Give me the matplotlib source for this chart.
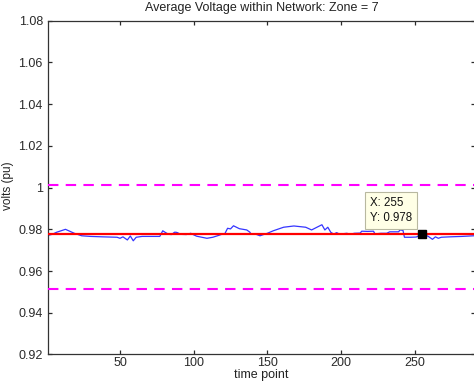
import matplotlib
matplotlib.use("Agg")
import matplotlib.pyplot as plt

plt.rcParams['font.family'] = ['Liberation Sans', 'DejaVu Sans']

# ---- data ----
time_points = [1, 4, 7, 13, 19, 24, 30, 38, 48, 50, 52, 55, 57, 59, 61, 65, 71, 77,
               79, 81, 83, 85, 87, 88, 89, 91, 95, 98, 99, 102, 109, 113, 117, 119,
               121, 123, 125, 127, 131, 136, 138, 139, 142, 145, 147, 150, 154, 161,
               168, 176, 180, 187, 189, 191, 193, 195, 197, 199, 204, 206, 209, 213,
               214, 218, 222, 223, 227, 231, 233, 239, 240, 242, 243, 247, 251, 255,
               259, 262, 264, 266, 268, 274, 282, 290]
avg_voltage = [0.9771, 0.9776, 0.9786, 0.9800, 0.9781, 0.9769, 0.9766, 0.9764, 0.9762,
               0.9757, 0.9764, 0.9749, 0.9768, 0.9745, 0.9762, 0.9766, 0.9766, 0.9766,
               0.9793, 0.9784, 0.9776, 0.9775, 0.9786, 0.9786, 0.9784, 0.9776, 0.9775,
               0.9781, 0.9777, 0.9767, 0.9757, 0.9762, 0.9771, 0.9776, 0.9777, 0.9805,
               0.9802, 0.9817, 0.9803, 0.9797, 0.9787, 0.9777, 0.9777, 0.9769, 0.9774,
               0.9781, 0.9793, 0.9810, 0.9816, 0.9810, 0.9797, 0.9822, 0.9797, 0.9810,
               0.9786, 0.9777, 0.9784, 0.9777, 0.9781, 0.9776, 0.9781, 0.9782, 0.9791,
               0.9790, 0.9791, 0.9778, 0.9781, 0.9781, 0.9788, 0.9788, 0.9797, 0.9795,
               0.9762, 0.9762, 0.9763, 0.9776, 0.9767, 0.9752, 0.9764, 0.9757, 0.9762,
               0.9764, 0.9766, 0.9769]
mean_level = 0.9776
upper_limit = 1.0012
lower_limit = 0.9515
tip_x = 255
tip_y = 0.9776

x_limits = [1, 291]
y_limits = [0.92, 1.08]
x_ticks = [50, 100, 150, 200, 250]
y_ticks = [0.92, 0.94, 0.96, 0.98, 1.00, 1.02, 1.04, 1.06, 1.08]
y_tick_labels = ['0.92', '0.94', '0.96', '0.98', '1', '1.02', '1.04', '1.06', '1.08']

title = 'Average Voltage within Network: Zone = 7'
xlabel = 'time point'
ylabel = 'volts (pu)'

# ---- figure ----
fig = plt.figure(figsize=(4.74, 3.91), dpi=100)
ax = fig.add_axes([0.1008, 0.0934, 0.9017, 0.8536])

ax.plot(time_points, avg_voltage, color='#3535ff', lw=0.9, zorder=2)
ax.axhline(mean_level, color='#ff0000', lw=1.6, zorder=3)
ax.axhline(upper_limit, color='#ff00ff', lw=1.5, ls=(0, (5, 3.5)), zorder=3)
ax.axhline(lower_limit, color='#ff00ff', lw=1.5, ls=(0, (5, 3.5)), zorder=3)

ax.plot([tip_x], [tip_y], marker='s', ms=6.3, color='black', zorder=5)
ax.annotate(f'X: {tip_x}\nY: {tip_y:.3f}', xy=(tip_x, tip_y),
            xytext=(-10, 10), textcoords='offset pixels',
            ha='right', va='bottom', multialignment='left',
            fontsize=8.3, color='#111111', linespacing=1.4,
            bbox=dict(boxstyle='square,pad=0.42', fc='#ffffe6', ec='#b8b8a0', lw=0.8),
            zorder=6)

ax.set_xlim(x_limits)
ax.set_ylim(y_limits)
ax.set_xticks(x_ticks)
ax.set_yticks(y_ticks)
ax.set_yticklabels(y_tick_labels)

ax.tick_params(direction='in', length=3.2, width=0.9, top=True, right=True,
               labelsize=9, colors='#2a2a2a', pad=3.5)
ax.tick_params(axis='x', pad=1.5)
for s in ax.spines.values():
    s.set_color('#333333')
    s.set_linewidth(0.9)

ax.set_title(title, fontsize=9, color='#222222', pad=7)
ax.set_xlabel(xlabel, fontsize=9, color='#222222', labelpad=0.5)
fig.text(7.5 / 474, 1 - 186 / 391, ylabel, rotation=90, ha='center', va='center',
         fontsize=8.5, color='#222222')

fig.savefig('out.png', dpi=100)
